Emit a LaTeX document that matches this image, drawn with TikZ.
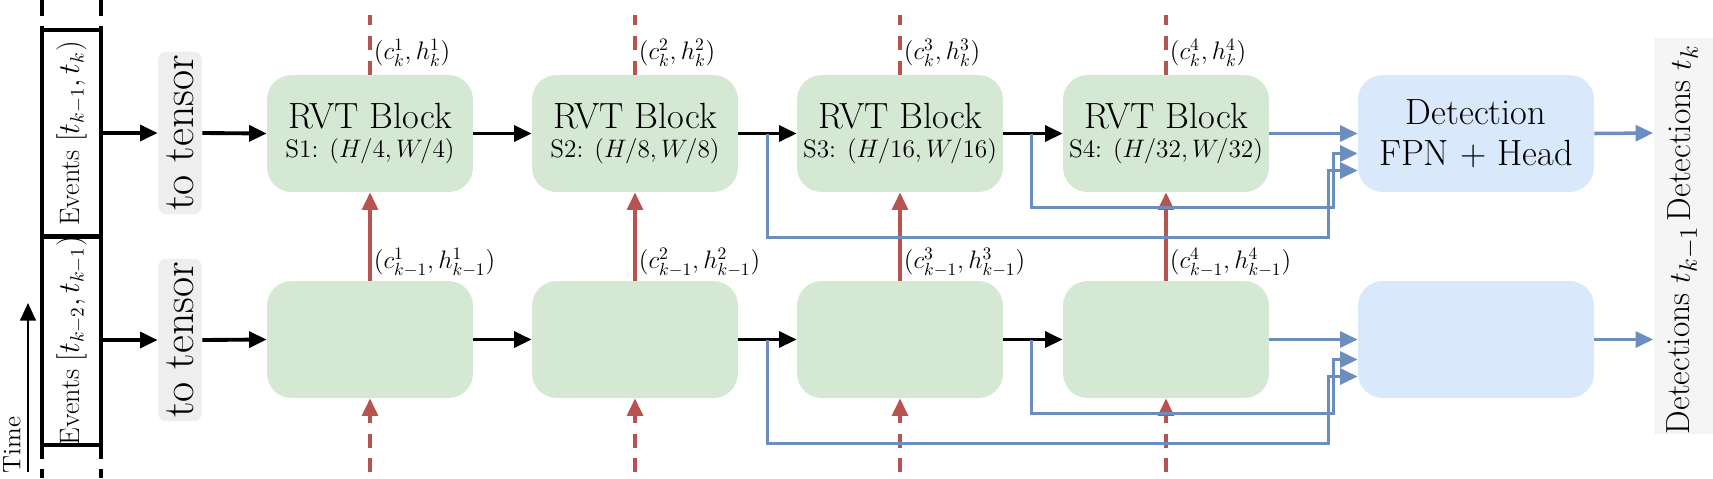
\documentclass[tikz,border=0pt]{standalone}
\usepackage{amsmath}
\usetikzlibrary{arrows.meta,calc}
\definecolor{blockgreen}{HTML}{D5E8D4}
\definecolor{detblue}{HTML}{DAE8FC}
\definecolor{tensorgray}{HTML}{EEEEEE}
\definecolor{outgray}{HTML}{F5F5F5}
\definecolor{statered}{HTML}{B85450}
\definecolor{featblue}{HTML}{6C8EBF}

\begin{document}
\begin{tikzpicture}[
    x=0.02cm, y=-0.02cm,
    >={Triangle[length=10pt,width=9pt]},
    rvt/.style={fill=blockgreen, rounded corners=14pt, minimum width=4.12cm, minimum height=2.34cm, inner sep=0pt, align=center},
    det/.style={fill=detblue, rounded corners=14pt, minimum width=4.72cm, minimum height=2.34cm, inner sep=0pt, align=center},
    tensor/.style={fill=tensorgray, rounded corners=5pt, rotate=90, minimum width=3.26cm, minimum height=0.88cm, inner sep=0pt, font=\Huge},
    events/.style={draw, line width=2.2pt, rotate=90, minimum width=4.14cm, minimum height=1.18cm, inner sep=0pt, font=\fontsize{16}{18}\selectfont},
    output/.style={fill=outgray, rotate=90, minimum height=1.18cm, inner sep=0pt, font=\fontsize{19}{22}\selectfont},
    flow/.style={->, line width=2.2pt},
    state/.style={->, line width=2pt, statered},
    feat/.style={->, line width=2pt, featblue},
    statelabel/.style={font=\Large, inner sep=2pt}
]
\useasboundingbox (0,0) rectangle (1713,478);

% Time axis
\draw[->, line width=1pt] (28,472) -- (28,303);
\node[rotate=90, font=\Large] (time) at (12,445) {Time};
\draw[line width=2.2pt, dash pattern=on 9pt off 6pt] (42,0) -- (42,30) (101,0) -- (101,30) (42,443) -- (42,478) (101,443) -- (101,478);

% Input windows
\node[events] (ev_top) at (71.5,133.5) {Events $[t_{k-1},t_k)$};
\node[events] (ev_bot) at (71.5,340.5) {Events $[t_{k-2},t_{k-1})$};
\node[tensor] (tt_top) at (180,133) {to tensor};
\node[tensor] (tt_bot) at (180,340) {to tensor};

% RVT stages
\node[rvt] (s1) at (370,133.5) {\huge RVT Block\\[4pt] \Large S1: $(H/4,W/4)$};
\node[rvt] (s2) at (635,133.5) {\huge RVT Block\\[4pt] \Large S2: $(H/8,W/8)$};
\node[rvt] (s3) at (900,133.5) {\huge RVT Block\\[4pt] \Large S3: $(H/16,W/16)$};
\node[rvt] (s4) at (1166,133.5) {\huge RVT Block\\[4pt] \Large S4: $(H/32,W/32)$};
\foreach \i/\xx in {1/370,2/635,3/900,4/1166}
    \node[rvt] (p\i) at (\xx,339.5) {};
\node[det] (det_top) at (1476,133.5) {\huge Detection\\[8pt] \huge FPN + Head};
\node[det] (det_bot) at (1476,339.5) {};
\node[output, minimum width=3.8cm] (out_top) at (1683,133) {Detections $t_k$};
\node[output, minimum width=3.48cm] (out_bot) at (1683,330) {Detections $t_{k-1}$};

% Forward path
\draw[flow] (ev_top.south |- tt_top) -- (tt_top.north);
\draw[flow] (ev_bot.south |- tt_bot) -- (tt_bot.north);
\draw[flow] (tt_top.south) -- (s1.west);
\draw[flow] (tt_bot.south) -- (p1.west);
\draw[flow] (s1) -- (s2); \draw[flow] (s2) -- (s3); \draw[flow] (s3) -- (s4);
\draw[flow] (p1) -- (p2); \draw[flow] (p2) -- (p3); \draw[flow] (p3) -- (p4);

% Recurrent states
\foreach \i in {1,2,3,4} {
    \coordinate (in\i) at ($(p\i.south)+(0,74)$);
    \coordinate (out\i) at ($(s\i.north)+(0,-60)$);
    \draw[state, dash pattern=on 8pt off 6pt] (in\i) -- (p\i.south);
    \draw[line width=2pt, statered, dash pattern=on 8pt off 6pt] (s\i.north) -- (out\i);
    \draw[state] (p\i.north) -- (s\i.south);
    \node[statelabel, anchor=west] (lt\i) at ($(s\i.north)+(0,-22)$) {$(c_k^{\i},h_k^{\i})$};
    \node[statelabel, anchor=west] (lb\i) at ($(p\i.north)+(0,-18)$) {$(c_{k-1}^{\i},h_{k-1}^{\i})$};
}

% Features to detection
\draw[feat] (s4.east |- det_top) -- (det_top.west);
\draw[feat] (s3.east) ++(28,0) coordinate (b3t) -- ++(0,74) -| ($(det_top.west)+(-24,20)$) -- ($(det_top.west)+(0,20)$);
\draw[feat] (s2.east) ++(29,0) coordinate (b2t) -- ++(0,104) -| ($(det_top.west)+(-29,37)$) -- ($(det_top.west)+(0,37)$);
\draw[feat] (p4.east |- det_bot) -- (det_bot.west);
\draw[feat] (p3.east) ++(28,0) -- ++(0,74) -| ($(det_bot.west)+(-24,20)$) -- ($(det_bot.west)+(0,20)$);
\draw[feat] (p2.east) ++(29,0) -- ++(0,104) -| ($(det_bot.west)+(-29,37)$) -- ($(det_bot.west)+(0,37)$);
\draw[feat] (det_top.east) -- (out_top.north);
\draw[feat] (det_bot.east) -- (out_bot.north |- det_bot);
\end{tikzpicture}
\end{document}
